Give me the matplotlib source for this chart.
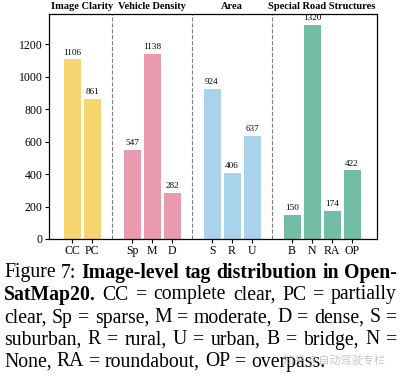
import numpy as np
import matplotlib
matplotlib.use('Agg')
import matplotlib.pyplot as plt

plt.rcParams.update({'font.family': ['Liberation Serif', 'DejaVu Serif'], 'font.size': 8.5})

# data
groups = ['Image Clarity', 'Vehicle Density', 'Area', 'Special Road Structures']
group_tags = [['CC', 'PC'], ['Sp', 'M', 'D'], ['S', 'R', 'U'], ['B', 'N', 'RA', 'OP']]
group_counts = [[1106, 861], [547, 1138, 282], [924, 406, 637], [150, 1320, 174, 422]]
group_colors = ['#F7D56F', '#E99AAF', '#A9D3EA', '#73BDA7']

caption = [
    [('Figure', False), ('7:', False), ('Image-level', True), ('tag', True), ('distribution', True),
     ('in', True), ('Open-', True)],
    [('SatMap20.', True), ('CC', False), ('=', False), ('complete', False), ('clear,', False),
     ('PC', False), ('=', False), ('partially', False)],
    [('clear,', False), ('Sp', False), ('=', False), ('sparse,', False), ('M', False), ('=', False),
     ('moderate,', False), ('D', False), ('=', False), ('dense,', False), ('S', False), ('=', False)],
    [('suburban,', False), ('R', False), ('=', False), ('rural,', False), ('U', False), ('=', False),
     ('urban,', False), ('B', False), ('=', False), ('bridge,', False), ('N', False), ('=', False)],
    [('None,', False), ('RA', False), ('=', False), ('roundabout,', False), ('OP', False), ('=', False),
     ('overpass.', False)],
]

W, H = 400, 380
fig = plt.figure(figsize=(W / 100, H / 100), dpi=100)
ax = fig.add_axes([49 / W, 1 - 239 / H, 328 / W, 225 / H])

# bar positions: one empty slot between groups
pos = 0
ticks, labels = [], []
for gi, (tags, counts) in enumerate(zip(group_tags, group_counts)):
    x = np.arange(len(tags)) + pos
    ax.bar(x, counts, width=0.85, color=group_colors[gi], zorder=2)
    for xi, c in zip(x, counts):
        ax.text(xi, c + 18, str(c), ha='center', va='bottom', fontsize=6.6)
    ax.text(x.mean(), 1.012, groups[gi], transform=ax.get_xaxis_transform(),
            ha='center', va='bottom', fontsize=7.5, fontweight='bold')
    ticks += list(x)
    labels += tags
    if gi < len(groups) - 1:
        ax.axvline(x[-1] + 1, color='grey', linestyle='--', linewidth=0.8, zorder=1)
    pos = x[-1] + 2

ax.set_xticks(ticks)
ax.set_xticklabels(labels)
ax.set_xlim(-1.15, 15.25)
ax.set_ylim(0, 1320 * 1.05)
ax.set_yticks(range(0, 1201, 200))
ax.tick_params(length=3, width=0.8, pad=1.5)
for s in ax.spines.values():
    s.set_linewidth(0.9)

# caption, justified
r = fig.canvas.get_renderer()
FS = 14.2
x0, x1 = 4, 397
line_y = [273, 295, 318, 340, 362]
for li, line in enumerate(caption):
    ts = [fig.text(0, 1 - line_y[li] / H, w, fontsize=FS, fontweight='bold' if b else 'normal', va='center')
          for w, b in line]
    widths = [t.get_window_extent(r).width for t in ts]
    if li < len(caption) - 1:
        gap = (x1 - x0 - sum(widths)) / (len(ts) - 1)
    else:
        gap = FS * 100 / 72 * 0.25
    x = x0
    for t, w in zip(ts, widths):
        t.set_x(x / W)
        x += w + gap

fig.text(283 / W, 1 - 360 / H, '知乎 @自动驾驶专栏', fontsize=8, color='#bbbbbb', alpha=0.8,
         ha='left', va='center', family=['Noto Sans CJK SC', 'DejaVu Sans'])

fig.savefig('out.png', dpi=100)
